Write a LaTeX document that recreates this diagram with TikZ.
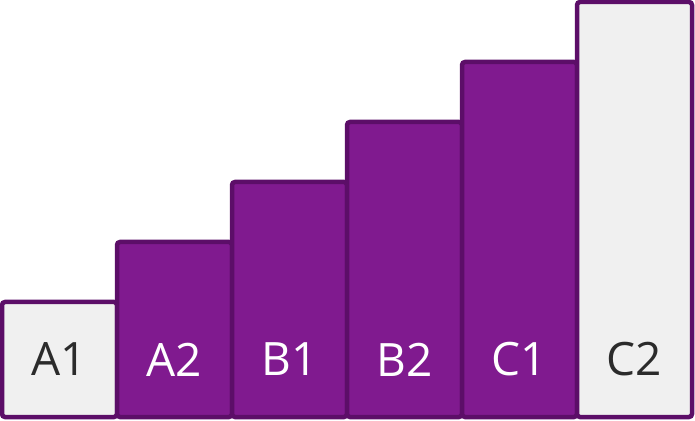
\documentclass[tikz,border=0pt]{standalone}
\usepackage{fontspec}
\setmainfont{Open Sans}
\definecolor{stairEdge}{HTML}{5C0E68}
\definecolor{stairPurple}{HTML}{801A8F}
\definecolor{stairLight}{HTML}{F0F0F0}
\definecolor{stairText}{HTML}{2B2B2B}
\usetikzlibrary{positioning}

\begin{document}
\begin{tikzpicture}[x=1pt, y=1pt,
  bar/.style={draw=stairEdge, line width=4.5pt, rounded corners=3pt,
    minimum width=115pt, anchor=south west, inner sep=0pt, outer sep=0pt},
  lightbar/.style={bar, fill=stairLight},
  darkbar/.style={bar, fill=stairPurple},
  tag/.style={minimum height=115pt, inner sep=0pt, outer sep=0pt,
    font=\fontsize{46}{48}\selectfont},
  lighttag/.style={tag, text=stairText},
  darktag/.style={tag, text=white}
]
  \useasboundingbox (0,0) rectangle (695,420);

  % Bars
  \node[lightbar, minimum height=115pt] (a1) at (2,3) {};
  \node[darkbar, minimum height=175pt] (a2) at (117,3) {};
  \node[darkbar, minimum height=235pt] (b1) at (232,3) {};
  \node[darkbar, minimum height=295pt] (b2) at (347,3) {};
  \node[darkbar, minimum height=355pt] (c1) at (462,3) {};
  \node[lightbar, minimum height=415pt] (c2) at (577,3) {};

  % Labels
  \node[lighttag, above=0pt of a1.south] (a1t) {A1};
  \node[darktag, above=0pt of a2.south] (a2t) {A2};
  \node[darktag, above=0pt of b1.south] (b1t) {B1};
  \node[darktag, above=0pt of b2.south] (b2t) {B2};
  \node[darktag, above=0pt of c1.south] (c1t) {C1};
  \node[lighttag, above=0pt of c2.south] (c2t) {C2};
\end{tikzpicture}
\end{document}
